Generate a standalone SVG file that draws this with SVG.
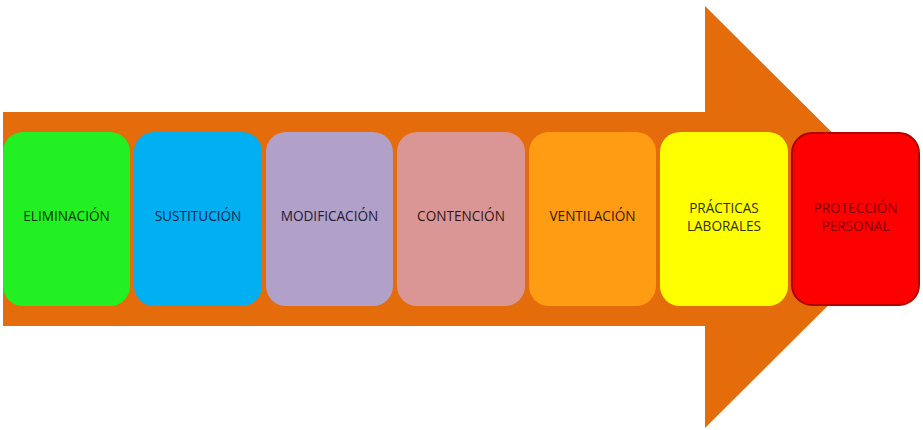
<svg xmlns="http://www.w3.org/2000/svg" width="923" height="430" viewBox="0 0 923 430">
<style>
.box{stroke:none}
.t{font-family:"Open Sans","Liberation Sans",sans-serif;font-size:13.6px;text-anchor:middle}
</style>
<rect width="923" height="430" fill="#ffffff"/>
<g id="arrow">
<polygon points="3,112 705,112 705,6 917,217 705,428 705,326 3,326" fill="#E46C0A"/>
</g>
<g id="connectors"></g>
<g id="n1"><rect class="box" x="3" y="132" width="127" height="174" rx="20" fill="#22F022"/><text class="t" x="66.5" y="221" fill="#0A300A">ELIMINACIÓN</text></g>
<g id="n2"><rect class="box" x="134" y="132" width="128" height="174" rx="20" fill="#00B0F0"/><text class="t" x="198" y="221" fill="#0B2550">SUSTITUCIÓN</text></g>
<g id="n3"><rect class="box" x="266" y="132" width="127" height="174" rx="20" fill="#B1A0C7"/><text class="t" x="329.5" y="221" fill="#221A36">MODIFICACIÓN</text></g>
<g id="n4"><rect class="box" x="397" y="132" width="128" height="174" rx="20" fill="#DA9694"/><text class="t" x="461" y="221" fill="#301414">CONTENCIÓN</text></g>
<g id="n5"><rect class="box" x="529" y="132" width="127" height="174" rx="20" fill="#FF9C14"/><text class="t" x="592.5" y="221" fill="#301A04">VENTILACIÓN</text></g>
<g id="n6"><rect class="box" x="660" y="132" width="128" height="174" rx="20" fill="#FFFF00"/><text class="t" x="724" fill="#30300A"><tspan x="724" y="213">PRÁCTICAS</tspan><tspan x="724" y="231">LABORALES</tspan></text></g>
<g id="n7"><rect x="792" y="133" width="127" height="172" rx="20" fill="#FF0000" stroke="#B00000" stroke-width="2"/><text class="t" x="855.5" fill="#7A0000"><tspan x="855.5" y="213">PROTECCIÓN</tspan><tspan x="855.5" y="231">PERSONAL</tspan></text></g>
</svg>
